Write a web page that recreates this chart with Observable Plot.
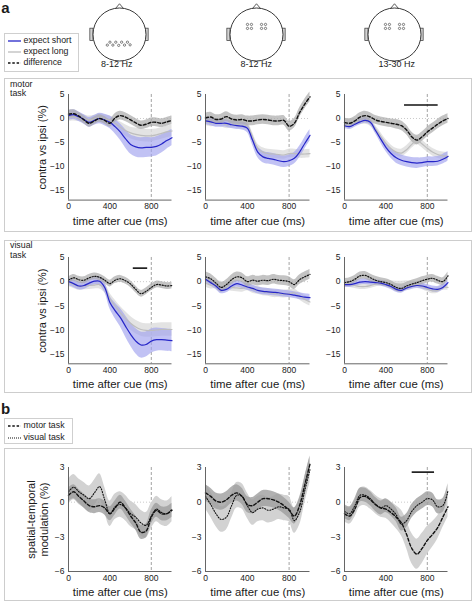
<!DOCTYPE html>
<html><head><meta charset="utf-8">
<script src="https://cdn.jsdelivr.net/npm/d3@7"></script>
<script src="https://cdn.jsdelivr.net/npm/@observablehq/plot@0.6"></script>
<style>
body{margin:0;background:#fff;}
#fig{position:relative;width:474px;height:603px;overflow:hidden;background:#fff;font-family:"Liberation Sans",Arial,Helvetica,sans-serif;color:#1a1a1a;}
.box{position:absolute;border:1.5px solid #cdcdcd;box-sizing:border-box;}
.lbl{position:absolute;white-space:nowrap;line-height:1;}
</style></head><body><div id="fig"></div><script>
// ---------- data ----------
const time = [0,50,100,150,200,250,300,350,400,450,500,550,600,650,700,750,800,850,900,950,1000];
const xTicks = [0,400,800];
const yTicksA = [5,0,-5,-10,-15];
const yTicksB = [3,0,-3,-6];
const headLabels = ["8-12 Hz","8-12 Hz","13-30 Hz"];
const legendA = ["expect short","expect long","difference"];
const legendB = ["motor task","visual task"];
const rowLabels = ["motor\ntask","visual\ntask"];
const xTitle = "time after cue (ms)";
const yTitleA = "contra vs ipsi (%)";
const yTitleB = "spatial-temporal\nmodulation (%)";

// motor task, column 1 (8-12 Hz posterior)
const motor1Short = [0.6,0.8,0.35,-0.2,-0.8,-0.4,0.0,-0.3,-0.8,-1.7,-2.8,-4.2,-5.4,-5.9,-6.1,-6.0,-6.0,-5.8,-5.3,-4.6,-4.0];
const motor1ShortErr = [1.0,1.0,1.0,1.0,1.0,1.0,1.1,1.2,1.3,1.5,1.7,1.9,2.0,2.1,2.1,2.1,2.0,2.0,1.9,1.8,1.7];
const motor1Long = [0.2,0.3,0.2,0.0,-0.3,-0.1,0.2,-0.1,-0.4,-1.0,-1.8,-2.5,-3.0,-3.3,-3.5,-3.6,-3.6,-3.4,-3.1,-2.8,-2.6];
const motor1LongErr = [0.8,0.8,0.8,0.8,0.8,0.8,0.8,0.9,0.9,1.0,1.1,1.2,1.2,1.3,1.3,1.3,1.3,1.2,1.2,1.2,1.2];
const motor1Diff = [0.9,1.0,0.5,-0.3,-1.0,-0.5,0.0,-0.4,-1.0,0.1,0.6,0.3,-0.3,-0.9,-1.4,-1.2,-0.8,-0.8,-1.0,-0.7,-0.4];
const motor1DiffErr = [0.8,0.8,0.8,0.8,0.8,0.8,0.8,0.8,0.8,0.9,0.9,0.9,0.9,0.9,0.9,0.9,0.9,0.9,0.9,0.9,0.9];
// motor task, column 2 (8-12 Hz central)
const motor2Short = [-0.5,-0.7,-1.0,-1.0,-1.0,-1.3,-1.5,-1.6,-2.0,-4.5,-7.0,-8.0,-8.3,-8.5,-8.8,-9.0,-8.8,-8.3,-7.0,-5.2,-3.5];
const motor2ShortErr = [0.8,0.8,0.8,0.8,0.8,0.8,0.8,0.8,0.9,1.0,1.1,1.2,1.2,1.2,1.2,1.2,1.2,1.2,1.2,1.2,1.2];
const motor2Long = [-0.6,-0.9,-0.8,-0.9,-1.3,-1.2,-1.2,-1.4,-1.5,-3.8,-6.2,-7.0,-7.3,-7.4,-7.5,-7.6,-7.3,-7.3,-7.4,-7.4,-7.3];
const motor2LongErr = [0.8,0.8,0.8,0.8,0.8,0.8,0.8,0.8,0.8,0.9,0.9,0.9,0.9,0.9,0.9,0.9,0.9,0.9,0.9,0.9,0.9];
const motor2Diff = [0.1,0.3,-0.2,-0.1,0.4,-0.1,-0.3,-0.2,-0.5,-0.5,-0.3,-0.2,-0.3,-0.5,-0.5,-0.4,-1.6,-1.0,1.2,3.0,4.5];
const motor2DiffErr = [1.0,1.0,1.0,1.0,1.0,1.0,1.0,1.0,1.0,1.0,1.0,1.0,1.0,1.0,1.0,1.0,1.0,1.0,1.0,1.0,1.0];
// motor task, column 3 (13-30 Hz)
const motor3Short = [-1.5,-1.7,-1.2,-0.7,-0.4,-0.8,-2.5,-4.3,-6.0,-7.3,-8.2,-8.7,-9.0,-9.2,-9.3,-9.2,-9.0,-9.0,-8.9,-8.5,-7.9];
const motor3ShortErr = [0.6,0.6,0.6,0.6,0.6,0.6,0.7,0.8,0.9,1.0,1.1,1.1,1.1,1.1,1.1,1.0,1.0,1.0,1.0,1.0,1.0];
const motor3Long = [-0.7,-0.7,-0.7,-0.6,-0.5,-0.9,-2.2,-3.7,-5.2,-6.3,-7.0,-7.2,-6.5,-5.4,-4.6,-5.3,-6.2,-7.0,-7.5,-7.8,-7.9];
const motor3LongErr = [0.7,0.7,0.7,0.7,0.7,0.7,0.7,0.8,0.8,0.8,0.8,0.8,0.8,0.8,0.8,0.8,0.8,0.8,0.8,0.8,0.8];
const motor3Diff = [-0.8,-1.0,-0.5,0.3,0.6,0.3,-0.3,-0.6,-0.8,-1.0,-1.2,-1.5,-2.4,-3.8,-4.5,-3.8,-2.8,-2.0,-1.2,-0.5,0.0];
const motor3DiffErr = [0.9,0.9,0.9,0.9,0.9,0.9,0.9,0.9,0.9,0.9,1.0,1.0,1.0,1.0,1.0,1.0,1.0,1.0,1.0,1.0,1.0];
// visual task, column 1
const visual1Short = [0.0,-0.4,-0.9,-0.8,-0.3,0.1,0.1,-1.2,-4.3,-6.0,-7.4,-9.2,-10.9,-12.3,-13.1,-13.0,-12.3,-12.0,-12.0,-12.1,-12.2];
const visual1ShortErr = [0.8,0.8,0.8,0.8,0.8,0.8,0.9,1.0,1.3,1.6,1.9,2.2,2.4,2.6,2.7,2.6,2.5,2.4,2.3,2.3,2.3];
const visual1Long = [-0.2,-0.6,-1.0,-0.9,-0.8,-0.7,-0.6,-1.3,-3.5,-5.0,-6.4,-7.6,-8.6,-9.4,-9.9,-10.1,-10.1,-10.0,-9.9,-9.9,-9.9];
const visual1LongErr = [0.8,0.8,0.8,0.8,0.8,0.8,0.9,1.0,1.1,1.2,1.3,1.4,1.4,1.4,1.4,1.4,1.4,1.4,1.4,1.4,1.4];
const visual1Diff = [0.3,0.8,0.4,0.3,0.8,1.1,0.9,0.3,-0.4,0.3,0.6,0.2,-0.5,-1.6,-2.5,-2.0,-1.2,-0.6,-0.7,-0.9,-0.8];
const visual1DiffErr = [0.7,0.7,0.7,0.7,0.7,0.7,0.7,0.7,0.7,0.7,0.7,0.7,0.7,0.7,0.7,0.7,0.7,0.7,0.7,0.7,0.7];
// visual task, column 2
const visual2Short = [0.5,-0.2,-0.9,-1.8,-1.6,-0.9,-0.4,-0.7,-1.1,-1.4,-1.8,-2.0,-2.1,-2.2,-2.3,-2.5,-2.6,-2.8,-3.0,-3.2,-3.3];
const visual2ShortErr = [0.7,0.7,0.7,0.7,0.7,0.7,0.7,0.7,0.7,0.7,0.7,0.7,0.7,0.7,0.7,0.7,0.7,0.7,0.7,0.7,0.7];
const visual2Long = [-0.3,-0.7,-0.6,-0.7,-1.0,-1.2,-1.3,-1.4,-1.1,-1.6,-1.8,-2.1,-2.2,-2.5,-2.5,-2.6,-2.5,-2.3,-3.0,-3.7,-4.2];
const visual2LongErr = [0.8,0.8,0.8,0.8,0.8,0.8,0.8,0.8,0.8,0.8,0.8,0.8,0.8,0.8,0.8,0.8,0.8,0.8,0.8,0.8,0.8];
const visual2Diff = [1.0,0.6,-0.3,-1.2,-0.6,0.4,1.0,0.8,0.0,0.3,0.1,0.3,0.2,0.5,0.3,0.2,0.0,-0.6,0.4,1.0,1.5];
const visual2DiffErr = [1.0,1.0,1.0,1.0,1.0,1.0,1.0,1.0,1.0,1.0,1.0,1.0,1.0,1.0,1.0,1.0,1.0,1.0,1.0,1.0,1.0];
// visual task, column 3
const visual3Short = [-0.6,-0.6,-0.4,-0.1,0.0,-0.1,-0.2,-0.3,-0.6,-1.0,-1.6,-1.8,-1.3,-1.0,-0.8,-0.9,-1.2,-1.5,-1.6,-1.2,-0.2];
const visual3ShortErr = [0.6,0.6,0.6,0.6,0.6,0.6,0.6,0.6,0.6,0.6,0.6,0.6,0.6,0.6,0.6,0.6,0.6,0.6,0.6,0.6,0.6];
const visual3Long = [-0.4,-0.6,-0.8,-1.0,-1.0,-0.8,-0.5,-0.3,-0.4,-0.4,-0.5,-0.5,-0.4,-0.5,-0.6,-1.0,-1.5,-1.9,-1.8,-1.2,-1.2];
const visual3LongErr = [0.6,0.6,0.6,0.6,0.6,0.6,0.6,0.6,0.6,0.6,0.6,0.6,0.6,0.6,0.6,0.6,0.6,0.6,0.6,0.6,0.6];
const visual3Diff = [-0.2,0.0,0.5,1.2,1.3,0.8,0.3,0.0,-0.2,-0.6,-1.2,-1.4,-0.9,-0.5,-0.2,0.2,0.5,0.7,0.3,0.0,1.2];
const visual3DiffErr = [0.8,0.8,0.8,0.8,0.8,0.8,0.8,0.8,0.8,0.8,0.8,0.8,0.8,0.8,0.8,0.8,0.8,0.8,0.8,0.8,0.8];
// panel b: spatial-temporal modulation
const bMotor1 = [0.6,0.9,0.5,0.1,-0.3,-0.4,-0.3,-0.5,-1.0,-0.5,0.0,-0.5,-1.2,-1.8,-2.6,-2.5,-1.3,-0.7,-1.0,-1.0,-0.7];
const bMotor1Err = [0.6,0.6,0.6,0.6,0.6,0.6,0.6,0.6,0.6,0.6,0.6,0.6,0.6,0.6,0.6,0.6,0.6,0.6,0.6,0.6,0.6];
const bVisual1 = [0.9,1.3,0.9,0.6,0.3,0.8,1.35,0.2,-1.0,-0.4,-0.2,-0.5,-1.0,-1.3,-1.8,-2.0,-1.2,-0.6,-0.9,-1.0,-0.6];
const bVisual1Err = [1.1,1.1,1.1,1.1,1.1,1.1,1.1,1.1,1.1,1.1,1.1,1.1,1.1,1.1,1.1,1.1,1.1,1.1,1.1,1.1,1.1];
const bMotor2 = [0.8,0.5,0.1,0.0,0.2,0.6,0.8,0.5,-0.2,-0.3,0.0,0.3,0.3,0.2,0.0,-0.3,-0.7,-1.2,-0.3,1.5,3.3];
const bMotor2Err = [0.7,0.7,0.7,0.7,0.7,0.7,0.7,0.7,0.7,0.7,0.7,0.7,0.7,0.7,0.7,0.7,0.7,0.7,0.7,0.7,0.7];
const bVisual2 = [0.5,-0.2,-1.0,-1.5,-1.3,-0.3,0.6,0.5,-0.3,-0.9,-0.6,-0.5,-0.7,-0.6,-0.4,-0.5,-0.6,-1.6,-0.9,1.0,2.8];
const bVisual2Err = [1.1,1.1,1.1,1.1,1.1,1.1,1.1,1.1,1.1,1.1,1.1,1.1,1.1,1.1,1.1,1.1,1.1,1.1,1.1,1.1,1.1];
const bMotor3 = [-1.0,-1.2,-0.6,0.4,0.5,0.2,-0.2,-0.5,-0.6,-0.9,-1.3,-1.8,-2.8,-4.0,-4.5,-4.0,-3.3,-2.8,-2.2,-1.3,-0.4];
const bMotor3Err = [0.7,0.7,0.7,0.8,0.8,0.8,0.8,0.8,0.8,0.9,1.0,1.1,1.2,1.3,1.3,1.3,1.2,1.1,1.0,0.9,0.9];
const bVisual3 = [-0.8,-1.0,-0.3,0.6,0.6,0.3,-0.2,-0.5,-0.3,-0.6,-1.1,-1.9,-1.6,-0.8,-0.3,0.0,0.3,0.2,-0.4,-0.3,1.0];
const bVisual3Err = [0.6,0.6,0.6,0.6,0.6,0.6,0.6,0.6,0.6,0.6,0.6,0.6,0.6,0.6,0.6,0.6,0.6,0.6,0.6,0.6,0.6];
// significance bars (start ms, end ms, level)
const sigMotor3 = [580, 905, 2.8];
const sigVisual1 = [626, 765, 2.8];
const sigB3 = [654, 870, 2.6];
// electrode positions on the head maps (normalised head radius)
const elecPosteriorX = [-0.46,-0.36,-0.25,-0.14,-0.03,0.08,0.19,0.30,0.40];
const elecPosteriorY = [-0.40,-0.29,-0.40,-0.29,-0.41,-0.29,-0.40,-0.29,-0.39];
const elecCentralX = [-0.34,-0.19,-0.34,-0.19,0.19,0.34,0.19,0.34];
const elecCentralY = [0.38,0.38,0.23,0.23,0.38,0.38,0.23,0.23];

// ---------- helpers ----------
const fig = document.getElementById("fig");
const FONT = "'Liberation Sans', Arial, Helvetica, sans-serif";
const curve = "catmull-rom";
const BLUE = "#2626c8";

function put(el, left, top) {
  el.style.position = "absolute";
  el.style.left = left + "px";
  el.style.top = top + "px";
  fig.appendChild(el);
}
function box(l, t, r, b, extra) {
  const d = document.createElement("div");
  d.className = "box";
  d.style.left = l + "px"; d.style.top = t + "px";
  d.style.width = (r - l) + "px"; d.style.height = (b - t) + "px";
  if (extra) Object.assign(d.style, extra);
  fig.appendChild(d);
}
function label(text, x, y, {size = 9, weight = "normal", align = "center", lh = 1.1} = {}) {
  const d = document.createElement("div");
  d.className = "lbl";
  d.style.fontSize = size + "px";
  d.style.fontWeight = weight;
  d.style.lineHeight = lh;
  d.style.textAlign = align;
  d.innerHTML = text.replace(/\n/g, "<br>");
  d.style.left = x + "px"; d.style.top = y + "px";
  if (align === "center") d.style.transform = "translate(-50%,-50%)";
  else d.style.transform = "translate(0,-50%)";
  fig.appendChild(d);
}
const rows = (v, e) => time.map((t, i) => ({t, v: v[i], lo: v[i] - e[i], hi: v[i] + e[i]}));

const COLS = [[67.5, 171], [205, 309.5], [344, 447.5]];
const ROWS = {
  motor: {top: 93.7, bot: 199.3, dom: [-17, 5], ticks: yTicksA},
  visual: {top: 256.7, bot: 363, dom: [-17, 5], ticks: yTicksA},
  b: {top: 466.7, bot: 570.7, dom: [-6, 3], ticks: yTicksB}
};
const mL = 64, mR = 14, mT = 14, mB = 30;

function subplot(rowKey, col, dataMarks, yTitle, yTitleDx, sig) {
  const R = ROWS[rowKey];
  const [x0, x1] = COLS[col];
  const marks = [
    Plot.ruleY([0], {stroke: "#bdbdbd", strokeDasharray: "1,2", strokeWidth: 0.8}),
    Plot.ruleX([800], {stroke: "#8c8c8c", strokeDasharray: "3,2", strokeWidth: 0.8}),
    ...dataMarks,
    sig ? Plot.ruleY([sig], {y: d => d[2], x1: d => d[0], x2: d => d[1], stroke: "#111", strokeWidth: 1.6}) : null,
    Plot.ruleX([0], {stroke: "#555", strokeWidth: 0.9}),
    Plot.ruleY([R.dom[0]], {stroke: "#555", strokeWidth: 0.9}),
    Plot.axisX({ticks: xTicks, tickSize: 0, tickPadding: 3, label: null, fontSize: 8.5}),
    Plot.axisY({ticks: R.ticks, tickSize: 0, tickPadding: 4, label: null, fontSize: 8.5}),
    Plot.text([xTitle], {text: d => d, frameAnchor: "bottom", dy: 21, fontSize: 11.4, lineAnchor: "middle", textAnchor: "middle"}),
    (col === 0 && yTitle) ? Plot.text([yTitle], {text: d => d, frameAnchor: "left", dx: yTitleDx, rotate: -90, fontSize: 11, lineAnchor: "middle", textAnchor: "middle", lineHeight: 1.18}) : null
  ];
  const svg = Plot.plot({
    width: mL + (x1 - x0) + mR,
    height: mT + (R.bot - R.top) + mB,
    marginLeft: mL, marginRight: mR, marginTop: mT, marginBottom: mB,
    x: {domain: [0, 1000]},
    y: {domain: R.dom},
    style: {fontFamily: FONT, fontSize: "8.5px", background: "transparent", overflow: "visible", color: "#1a1a1a"},
    marks
  });
  put(svg, x0 - mL, R.top - mT);
}

function panelA(rowKey, col, sh, shE, lo, loE, df, dfE, dash, dw, sig) {
  const S = rows(sh, shE), L = rows(lo, loE), D = rows(df, dfE);
  const area = (data, fill, op) => Plot.areaY(data, {x: "t", y1: "lo", y2: "hi", fill, fillOpacity: op, curve});
  subplot(rowKey, col, [
    area(L, "#dcdcdc", 0.8),
    area(S, "#9fa2ee", 0.65),
    area(D, "#a9a9a9", 0.7),
    Plot.line(L, {x: "t", y: "v", stroke: "#bdbdbd", strokeWidth: 1.2, curve}),
    Plot.line(S, {x: "t", y: "v", stroke: BLUE, strokeWidth: 1.2, curve}),
    Plot.line(D, {x: "t", y: "v", stroke: "#111", strokeWidth: dw, strokeDasharray: dash, curve})
  ], yTitleA, -27, sig);
}

function panelB(col, mo, moE, vi, viE, motorDark, sig) {
  const M = rows(mo, moE), V = rows(vi, viE);
  const light = "#d2d2d2", dark = "#9d9d9d";
  const bandM = Plot.areaY(M, {x: "t", y1: "lo", y2: "hi", fill: motorDark ? dark : light, fillOpacity: motorDark ? 0.8 : 1, curve});
  const bandV = Plot.areaY(V, {x: "t", y1: "lo", y2: "hi", fill: motorDark ? light : dark, fillOpacity: motorDark ? 1 : 0.8, curve});
  subplot("b", col, [
    ...(motorDark ? [bandV, bandM] : [bandM, bandV]),
    Plot.line(M, {x: "t", y: "v", stroke: "#111", strokeWidth: 1.4, strokeDasharray: "3,2", curve}),
    Plot.line(V, {x: "t", y: "v", stroke: "#111", strokeWidth: 1.1, strokeDasharray: "1.1,1.6", curve})
  ], yTitleB, -31, sig);
}

function head(cx, cy, ex, ey) {
  const size = 72, Rpx = 26.5, d = size / 2 / Rpx;
  const el = ex.map((x, i) => ({x, y: ey[i]}));
  const svg = Plot.plot({
    width: size, height: size, margin: 0,
    x: {domain: [-d, d]}, y: {domain: [-d, d]}, axis: null,
    style: {background: "transparent", overflow: "visible"},
    marks: [
      Plot.rect([{x1: -1.1, x2: -0.98, y1: -0.25, y2: 0.22}, {x1: 0.98, x2: 1.1, y1: -0.25, y2: 0.22}],
        {x1: "x1", x2: "x2", y1: "y1", y2: "y2", fill: "#d4d4d4", stroke: "#333", strokeWidth: 0.7}),
      Plot.line([{x: -0.16, y: 0.97}, {x: 0, y: 1.16}, {x: 0.16, y: 0.97}], {x: "x", y: "y", stroke: "#333", strokeWidth: 0.8}),
      Plot.dot([{x: 0, y: 0}], {x: "x", y: "y", r: Rpx, fill: "white", stroke: "#222", strokeWidth: 0.9}),
      Plot.dot(el, {x: "x", y: "y", r: 1.15, stroke: "#333", strokeWidth: 0.6})
    ]
  });
  put(svg, cx - size / 2, cy - size / 2);
}

function legend(l, t, w, h, items) {
  box(l, t, l + w, t + h, {border: "1px solid #cfcfcf"});
  items.forEach(([text, y, stroke, dash, sw]) => {
    const ns = "http://www.w3.org/2000/svg";
    const s = document.createElementNS(ns, "svg");
    s.setAttribute("width", 14); s.setAttribute("height", 4);
    const ln = document.createElementNS(ns, "line");
    ln.setAttribute("x1", 0); ln.setAttribute("x2", 13); ln.setAttribute("y1", 2); ln.setAttribute("y2", 2);
    ln.setAttribute("stroke", stroke); ln.setAttribute("stroke-width", sw);
    if (dash) ln.setAttribute("stroke-dasharray", dash);
    s.appendChild(ln);
    put(s, l + 4, y - 2);
    label(text, l + 19.5, y, {size: 8.8, align: "left"});
  });
}

// ---------- layout ----------
box(4, 78, 472, 231.5);
box(4, 239.5, 472, 392.5);
box(4, 447.5, 472, 601);

label("a", 5.5, 8, {size: 15, weight: "bold"});
label("b", 5.5, 409, {size: 15, weight: "bold"});

head(119.2, 33.7, elecPosteriorX, elecPosteriorY);
head(256, 33.7, elecCentralX, elecCentralY);
head(394.3, 33.7, elecCentralX, elecCentralY);
label(headLabels[0], 116.7, 64.8);
label(headLabels[1], 256.2, 64.8);
label(headLabels[2], 396.7, 64.8);

legend(4, 33, 74.5, 38.5, [
  [legendA[0], 41, BLUE, null, 1.3],
  [legendA[1], 52, "#bdbdbd", null, 1.3],
  [legendA[2], 63, "#111", "2.5,1.8", 1.3]
]);
legend(4, 418, 69, 25.5, [
  [legendB[0], 426, "#111", "2.5,1.8", 1.3],
  [legendB[1], 437.5, "#111", "1,1", 1.1]
]);

label(rowLabels[0], 10, 89.5, {size: 8.8, align: "left", lh: 1.12});
label(rowLabels[1], 10, 251, {size: 8.8, align: "left", lh: 1.12});

panelA("motor", 0, motor1Short, motor1ShortErr, motor1Long, motor1LongErr, motor1Diff, motor1DiffErr, "3,2", 1.4, null);
panelA("motor", 1, motor2Short, motor2ShortErr, motor2Long, motor2LongErr, motor2Diff, motor2DiffErr, "3,2", 1.4, null);
panelA("motor", 2, motor3Short, motor3ShortErr, motor3Long, motor3LongErr, motor3Diff, motor3DiffErr, "3,2", 1.4, sigMotor3);
panelA("visual", 0, visual1Short, visual1ShortErr, visual1Long, visual1LongErr, visual1Diff, visual1DiffErr, "1.2,1.6", 1.2, sigVisual1);
panelA("visual", 1, visual2Short, visual2ShortErr, visual2Long, visual2LongErr, visual2Diff, visual2DiffErr, "1.2,1.6", 1.2, null);
panelA("visual", 2, visual3Short, visual3ShortErr, visual3Long, visual3LongErr, visual3Diff, visual3DiffErr, "1.2,1.6", 1.2, null);

panelB(0, bMotor1, bMotor1Err, bVisual1, bVisual1Err, true, null);
panelB(1, bMotor2, bMotor2Err, bVisual2, bVisual2Err, true, null);
panelB(2, bMotor3, bMotor3Err, bVisual3, bVisual3Err, false, sigB3);
</script></body></html>
